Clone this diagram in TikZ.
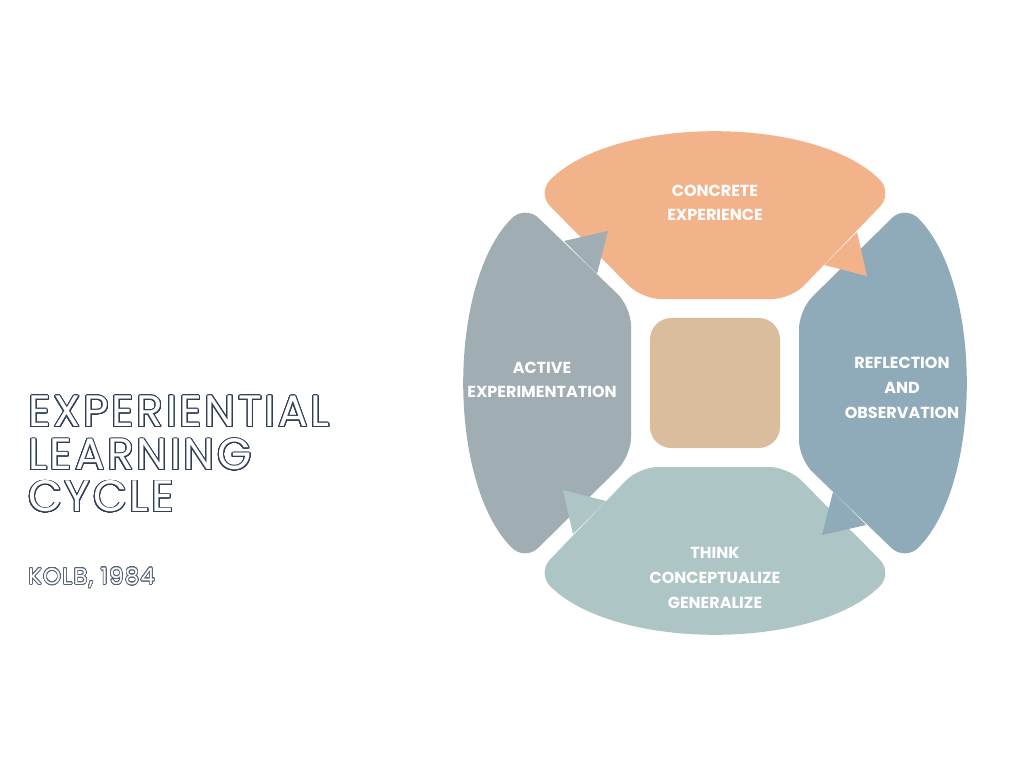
\documentclass[tikz,border=0pt]{standalone}
\usepackage{fontspec}
\setmainfont{Poppins}
\usepackage[copies]{contour}
\contournumber{32}
\definecolor{corange}{HTML}{F2B38B}
\definecolor{cblue}{HTML}{8FAAB8}
\definecolor{cteal}{HTML}{AEC5C5}
\definecolor{cgray}{HTML}{A0ADB2}
\definecolor{csq}{HTML}{D9BD9C}
\definecolor{cnavy}{HTML}{2F3E55}
\tikzset{
  seg/.style={rounded corners=12pt},
  lbl/.style={text=white,font=\fontsize{12}{18.5}\selectfont\bfseries,align=center},
  ttl/.style={anchor=west,font=\fontsize{33}{32}\selectfont\addfontfeatures{LetterSpace=6}},
}
\newcommand{\segpath}{(-178,-190) .. controls (-100,-268) and (100,-268) .. (178,-190) -- (76,-84) -- (-73,-84) -- cycle}
\newcommand{\arrowpath}{(142,-151) -- (152,-107) -- (109,-118) -- cycle}
\begin{document}
\begin{tikzpicture}[x=0.75pt,y=-0.75pt]
\useasboundingbox (0,0) rectangle (1024,768);
\fill[white] (0,0) rectangle (1024,768);
\foreach \r/\c in {0/corange,-90/cblue,-180/cteal,-270/cgray}{
  \begin{scope}[shift={(715,383)},rotate=\r]
    \fill[\c,rounded corners=14pt] \segpath;
  \end{scope}
}
\foreach \r/\c in {0/corange,-90/cblue,-180/cteal,-270/cgray}{
  \begin{scope}[shift={(715,383)},rotate=\r]
    \fill[\c] \arrowpath;
  \end{scope}
}
\fill[csq,rounded corners=16pt] (650,318) rectangle (780,448);
\node[lbl] (ce) at (715,203) {CONCRETE\\EXPERIENCE};
\node[lbl] (ro) at (902,388) {REFLECTION\\AND\\OBSERVATION};
\node[lbl] (tc) at (715,578) {THINK\\CONCEPTUALIZE\\GENERALIZE};
\node[lbl] (ae) at (542,380) {ACTIVE\\EXPERIMENTATION};
\contourlength{0.7pt}
\node[ttl,inner sep=0] (t1) at (28,412) {\contour{cnavy}{\textcolor{white}{EXPERIENTIAL}}};
\node[ttl,inner sep=0] (t2) at (28,455) {\contour{cnavy}{\textcolor{white}{LEARNING}}};
\node[ttl,inner sep=0] (t3) at (28,497) {\contour{cnavy}{\textcolor{white}{CYCLE}}};
\contourlength{0.5pt}
\node[anchor=west,inner sep=0,font=\fontsize{17}{20}\selectfont\addfontfeatures{LetterSpace=6}] (k) at (28,578) {\contour{cnavy!80}{\textcolor{white}{KOLB, 1984}}};
\end{tikzpicture}
\end{document}
